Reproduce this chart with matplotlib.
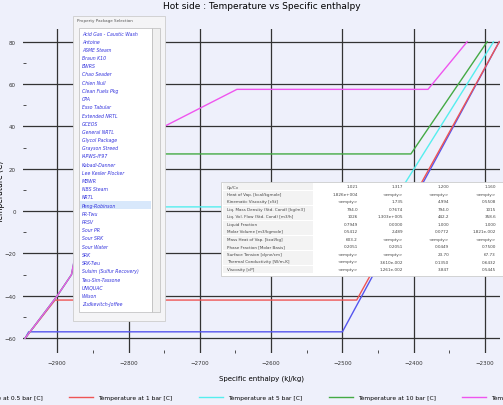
import matplotlib
matplotlib.use("Agg")
import matplotlib.pyplot as plt
from matplotlib.patches import Rectangle

W, H = 503, 406
series_names = ["Temperature at 0.5 bar [C]", "Temperature at 1 bar [C]", "Temperature at 5 bar [C]",
                "Temperature at 10 bar [C]", "Temperature at 20 bar [C]"]
colors = ["#5555ee", "#ee5555", "#55eeee", "#44aa44", "#ee55ee"]
h_05 = [-2945, -2940, -2500, -2280]; t_05 = [-60, -57, -57, 80]
h_1 = [-2945, -2903, -2480, -2280]; t_1 = [-60, -42, -42, 80]
h_5 = [-2945, -2900, -2880, -2862, -2433, -2288]; t_5 = [-60, -40, -30, 2, 2, 80]
h_10 = [-2945, -2900, -2880, -2845, -2404, -2297]; t_10 = [-60, -40, -30, 27, 27, 80]
h_20 = [-2945, -2900, -2880, -2851, -2648, -2380, -2325]; t_20 = [-60, -40, -30, 22.6, 57.5, 57.5, 80]
xs = [h_05, h_1, h_5, h_10, h_20]; ys = [t_05, t_1, t_5, t_10, t_20]

packages = ["Acid Gas - Caustic Wash", "Antoine", "ASME Steam", "Braun K10", "BWRS", "Chao Seader",
            "Chien Null", "Clean Fuels Pkg", "CPA", "Esso Tabular", "Extended NRTL", "GCEOS",
            "General NRTL", "Glycol Package", "Grayson Streed", "IAPWS-IF97", "Kabadi-Danner",
            "Lee Kesler Plocker", "MBWR", "NBS Steam", "NRTL", "Peng-Robinson", "PR-Twu", "PRSV",
            "Sour PR", "Sour SRK", "Sour Water", "SRK", "SRK-Twu", "Sulsim (Sulfur Recovery)",
            "Twu-Sim-Tassone", "UNIQUAC", "Wilson", "Zudkevitch-Joffee"]
row_labels = ["Cp/Cv", "Heat of Vap. [kcal/kgmole]", "Kinematic Viscosity [cSt]",
              "Liq. Mass Density (Std. Cond) [kg/m3]", "Liq. Vol. Flow (Std. Cond) [m3/h]",
              "Liquid Fraction", "Molar Volume [m3/kgmole]", "Mass Heat of Vap. [kcal/kg]",
              "Phase Fraction [Molar Basis]", "Surface Tension [dyne/cm]",
              "Thermal Conductivity [W/m-K]", "Viscosity [cP]"]
col1 = ["1.021", "1.826e+004", "<empty>", "794.0", "1026", "0.7949", "0.5412", "603.2", "0.2051", "<empty>", "<empty>", "<empty>"]
col2 = ["1.317", "<empty>", "1.735", "0.7674", "1.303e+005", "0.0000", "2.489", "<empty>", "0.2051", "<empty>", "3.610e-002", "1.261e-002"]
col3 = ["1.200", "<empty>", "4.994", "794.0", "442.2", "1.000", "0.0772", "<empty>", "0.0449", "23.70", "0.1350", "3.847"]
col4 = ["1.160", "<empty>", "0.5508", "1015", "358.6", "1.000", "1.821e-002", "<empty>", "0.7500", "67.73", "0.6432", "0.5445"]

bg = "#eef0fb"
fig = plt.figure(figsize=(W/100, H/100), dpi=100, facecolor=bg)
ax = fig.add_axes([23/W, 1-354/H, 477/W, 324/H], facecolor=bg)
for x, y, c, n in zip(xs, ys, colors, series_names):
    ax.plot(x, y, color=c, lw=1.0, label=n)
ax.set_xlim(-2948, -2279)
ax.set_ylim(-67, 86)
ax.set_xticks([-2900, -2800, -2700, -2600, -2500, -2400, -2300])
ax.set_xticks([-2850, -2750, -2650, -2550, -2450, -2350], minor=True)
ax.set_yticks([-60, -40, -20, 0, 20, 40, 60, 80])
ax.set_yticks([-50, -30, -10, 10, 30, 50, 70], minor=True)
ax.grid(True, which="major", color="#333333", lw=0.9)
for s in ax.spines.values():
    s.set_visible(False)
ax.tick_params(labelsize=4, length=0, colors="#333333", pad=5)
ax.tick_params(which="minor", length=2, direction="in", color="#333333")
ax.set_xlabel("Specific enthalpy (kJ/kg)", fontsize=5, labelpad=7)
ax.set_ylabel("Temperature (C)", fontsize=5.5)
ax.yaxis.set_label_coords(-0.038, 0.5)
ax.set_title("Hot side : Temperature vs Specific enthalpy", fontsize=6.5, pad=15)
fig.legend(loc="lower center", ncol=5, fontsize=4.3, frameon=False, bbox_to_anchor=(0.5, 0.0),
           handlelength=4, columnspacing=4.5)

def fx(px): return px / W
def fy(py): return 1 - py / H

# package selection panel
fig.patches.append(Rectangle((fx(73), fy(322)), fx(165)-fx(73), (322-17)/H, transform=fig.transFigure,
                             facecolor="#f4f4f6", edgecolor="#cccccc", lw=0.6, zorder=5))
fig.patches.append(Rectangle((fx(79), fy(313)), fx(152)-fx(79), (313-29)/H, transform=fig.transFigure,
                             facecolor="white", edgecolor="#bbbbbb", lw=0.5, zorder=6))
fig.patches.append(Rectangle((fx(152), fy(313)), fx(160)-fx(152), (313-29)/H, transform=fig.transFigure,
                             facecolor="#f0f0f0", edgecolor="#bbbbbb", lw=0.5, zorder=6))
fig.patches.append(Rectangle((fx(80), fy(210)), fx(151)-fx(80), 8/H, transform=fig.transFigure,
                             facecolor="#d8e8fb", edgecolor="none", zorder=6.5))
fig.text(fx(77), fy(21), "Property Package Selection", fontsize=3.0, color="#555555", va="center", zorder=7)
for i, p in enumerate(packages):
    fig.text(fx(82), fy(34 + i*8.2), p, fontsize=3.3, color="#3333dd", style="italic", va="center", zorder=7)

# property table
fig.patches.append(Rectangle((fx(221), fy(277)), fx(503)-fx(221), (277-183)/H, transform=fig.transFigure,
                             facecolor="white", edgecolor="#cccccc", lw=0.6, zorder=5))
for i, lab in enumerate(row_labels):
    y = fy(187.5 + i*7.5)
    fig.patches.append(Rectangle((fx(223), y - 3.5/H), fx(313)-fx(223), 7/H, transform=fig.transFigure,
                                 facecolor="#f3f3f3", edgecolor="none", zorder=5.5))
    fig.text(fx(227), y, lab, fontsize=3.0, color="#444444", va="center", zorder=7)
    for xc, col in zip([358, 403, 449, 496], [col1, col2, col3, col4]):
        fig.text(fx(xc), y, col[i], fontsize=3.0, color="#444444", va="center", ha="right", zorder=7)

fig.savefig("out.png", dpi=100, facecolor=bg)
